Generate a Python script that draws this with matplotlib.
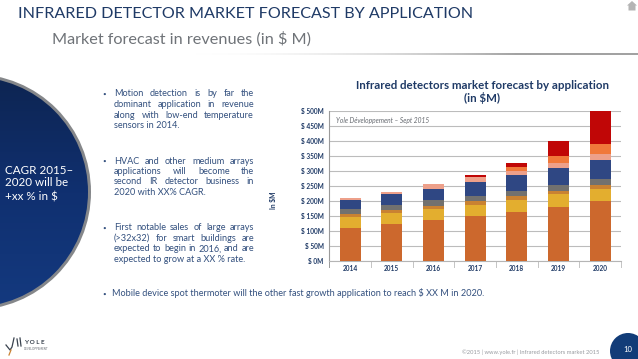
import numpy as np
import matplotlib
matplotlib.use('Agg')
import matplotlib.pyplot as plt
from matplotlib.patches import Circle, Polygon
from matplotlib.colors import LinearSegmentedColormap
from matplotlib.ticker import FuncFormatter

plt.rcParams['font.family'] = ['Lato', 'DejaVu Sans']

years = ['2014', '2015', '2016', '2017', '2018', '2019', '2020']
motion = [110, 124, 136, 149, 163, 180, 199]
temperature = [38, 37, 38, 38, 41, 42, 41]
thermometer = [10, 10, 11, 13, 13, 12, 12]
gray_app = [16, 16, 19, 17, 16, 19, 21]
hvac = [31, 36, 37, 46, 53, 57, 64]
salmon_app = [4, 7, 15, 16, 14, 16, 19]
orange_app = [0, 0, 0, 0, 13, 24, 33]
red_app = [0, 0, 0, 8, 13, 50, 111]
series = [motion, temperature, thermometer, gray_app, hvac, salmon_app, orange_app, red_app]
colors = ['#cc682d', '#e3ae2f', '#c98232', '#72716f', '#2f4783', '#eda08a', '#f0783a', '#c00606']
yticks = list(range(0, 501, 50))

NAVY = '#1f3a66'
TXT = '#33507e'
W, H = 638, 359
fig = plt.figure(figsize=(W/100, H/100), dpi=100, facecolor='white')

bg = fig.add_axes([0, 0, 1, 1], zorder=0)
bg.set_xlim(0, W); bg.set_ylim(H, 0); bg.axis('off')

# header
bg.text(18, 14.5, 'INFRARED DETECTOR MARKET FORECAST BY APPLICATION', fontsize=11.6, color=NAVY, va='center', ha='left')
bg.text(52, 39, 'Market forecast in revenues (in $ M)', fontsize=11.7, color='#6f7378', va='center', ha='left')
rule = np.clip(np.linspace(0, 1.35, 400), 0, 1) ** 2
bg.imshow(rule.reshape(1, -1), extent=(175, 638, 55, 53), aspect='auto',
          cmap=LinearSegmentedColormap.from_list('f', ['white', '#a2a2a2']), zorder=1)
bg.add_patch(Polygon([(632, 1), (637, 5.5), (635.5, 5.5), (635.5, 10.5), (628.5, 10.5), (628.5, 5.5), (627, 5.5)],
                     closed=True, fc='#b4b4b4', ec='none', zorder=2))

# circle
bg.add_patch(Circle((-27, 192), 118, fc='#85878a', ec='none', zorder=2))
grad = np.linspace(0, 1, 256).reshape(-1, 1)
cmap = LinearSegmentedColormap.from_list('c', ['#0d2450', '#103070', '#143a80'])
im = bg.imshow(grad, extent=(-30, 95, 315, 70), aspect='auto', cmap=cmap, zorder=3)
im.set_clip_path(Circle((-27, 192), 115, transform=bg.transData))
for y, s in [(170, 'CAGR 2015–'), (183, '2020 will be'), (197, '+xx % in $')]:
    bg.text(5, y, s, fontsize=8.4, color='white', va='center', ha='left', zorder=4)

# justified bullets
fig.canvas.draw()
rend = fig.canvas.get_renderer()
def jline(y, line, x0=114, x1=254, justify=True):
    words = line.split()
    kw = dict(fontsize=6.6, color=TXT, va='center', ha='left', zorder=4)
    if not justify:
        bg.text(x0, y, line, **kw)
        return
    ts = [bg.text(0, y, w, **kw) for w in words]
    ws = [t.get_window_extent(rend).width for t in ts]
    gap = (x1 - x0 - sum(ws)) / (len(words) - 1)
    x = x0
    for t, w in zip(ts, ws):
        t.set_x(x)
        x += w + gap

blocks = [
    (94, 10.6, ['Motion detection is by far the', 'dominant application in revenue',
                'along with low-end temperature', 'sensors in 2014.']),
    (161, 10.4, ['HVAC and other medium arrays', 'applications will become the',
                 'second IR detector business in', '2020 with XX% CAGR.']),
    (228, 10.4, ['First notable sales of large arrays', '(>32x32) for smart buildings are',
                 'expected to begin in 2016, and are', 'expected to grow at a XX % rate.']),
]
for y0, dy, lines in blocks:
    bg.text(104, y0, '•', fontsize=4.5, color=TXT, va='center', ha='center', zorder=4)
    for i, l in enumerate(lines):
        jline(y0 + i*dy, l, justify=i < len(lines)-1)
bg.text(104, 294, '•', fontsize=4.5, color=TXT, va='center', ha='center', zorder=4)
bg.text(112, 293, 'Mobile device spot thermoter will the other fast growth application to reach $ XX M in 2020.',
        fontsize=6.55, color=TXT, va='center', ha='left', zorder=4)

# footer
bg.text(599, 352, '©2015 | www.yole.fr | Infrared detectors market 2015', fontsize=4.15, color='#989ba0', va='center', ha='right')
bg.add_patch(Circle((628, 351), 18, fc='#123c78', ec='none', zorder=2))
bg.text(627.5, 350, '10', fontsize=5.5, color='white', va='center', ha='center', zorder=4)
bg.text(24, 342, 'Y O L E', fontsize=4.6, color='#39424e', va='center', ha='left', fontweight='bold')
bg.text(24, 349, 'DEVELOPPEMENT', fontsize=2.1, color='#6a6f76', va='center', ha='left')
bg.plot([6, 10, 12, 14], [345, 350, 347, 338], color='#39424e', lw=0.9)
bg.plot([9, 11], [355, 350], color='#c98232', lw=0.9)
bg.plot([17, 18], [339, 346], color='#39424e', lw=0.9)
bg.plot([20, 21], [338, 346], color='#39424e', lw=0.9)

# chart
ax = fig.add_axes([329.3/W, 1-261.3/H, (621-329.3)/W, (261.3-110.7)/H], zorder=2)
ax.patch.set_alpha(0)
x = np.arange(len(years))
bottom = np.zeros(len(years))
for vals, c in zip(series, colors):
    ax.bar(x, vals, width=0.505, bottom=bottom, color=c, zorder=3)
    bottom += np.array(vals)
ax.set_xlim(-0.5, 6.5)
ax.set_ylim(0, 500)
ax.set_yticks(yticks)
ax.yaxis.set_major_formatter(FuncFormatter(lambda v, p: f'$ {int(v)}M'))
ax.set_xticks(x)
ax.set_xticklabels(years)
ax.tick_params(axis='y', length=0, labelsize=4.7, labelcolor=NAVY, pad=4)
ax.tick_params(axis='x', length=0, labelsize=4.7, labelcolor=NAVY, pad=2.5)
for l in ax.get_xticklabels() + ax.get_yticklabels():
    l.set_fontweight('bold')
ax.grid(axis='y', color='#bcbcbc', lw=0.8, zorder=0)
ax.set_axisbelow(True)
for s in ['top', 'right']:
    ax.spines[s].set_visible(False)
ax.spines['left'].set_color('#9a9a9a'); ax.spines['left'].set_linewidth(0.8)
ax.spines['bottom'].set_color('#b5b5b5'); ax.spines['bottom'].set_linewidth(0.8)
for i in np.arange(-0.5, 7):
    ax.plot([i, i], [0, -18], color='#c4c4c4' if i > -0.5 else '#9a9a9a', lw=0.7, clip_on=False)
ax.text(0.022, 0.933, 'Yole Développement – Sept 2015', transform=ax.transAxes, fontsize=4.8,
        style='italic', color='#666a70', va='center', ha='left')
bg.text(482, 85.5, 'Infrared detectors market forecast by application', fontsize=8.25, fontweight='bold', color=NAVY, va='center', ha='center')
bg.text(482, 98.5, '(in $M)', fontsize=8.25, fontweight='bold', color=NAVY, va='center', ha='center')
bg.text(273.5, 200.5, 'In $M', fontsize=4.9, fontweight='bold', color=NAVY, rotation=90, va='center', ha='center')

bg.set_xlim(0, W); bg.set_ylim(H, 0)
fig.savefig('out.png', dpi=100, facecolor='white')
